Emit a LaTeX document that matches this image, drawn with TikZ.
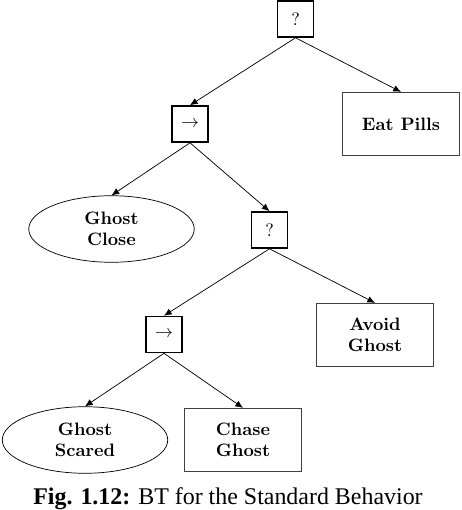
\documentclass[tikz,border=0pt]{standalone}
\usepackage{fontspec}
\newfontfamily\figcapserif{Liberation Serif}
\usetikzlibrary{arrows.meta, shapes.geometric, calc}
\newcommand{\btArrow}{{Latex[length=1.5mm, width=1.3mm]}}

\begin{document}
\begin{tikzpicture}[x=0.556pt, y=-0.556pt, font=\bfseries,
	ctrl/.style={draw, line width=0.9pt, minimum width=20pt, minimum height=20pt, inner sep=0pt, font=\normalfont},
	act/.style={draw=black!75, line width=0.7pt, minimum width=65pt, minimum height=35pt, align=center, inner sep=0pt},
	cond/.style={ellipse, draw, minimum width=92pt, minimum height=37pt, align=center, inner sep=0pt},
	figcap/.style={anchor=base west, inner sep=0pt, font=\figcapserif\fontsize{13.3pt}{16pt}\selectfont}]
	\useasboundingbox (0,0) rectangle (462,510);
	\clip (0,0) rectangle (462,510);

	% control flow nodes
	\node[ctrl] (root) at (295.5,19) {?};
	\node[ctrl] (seqA) at (190,124) {$\rightarrow$};
	\node[ctrl] (selB) at (269.5,230) {?};
	\node[ctrl] (seqB) at (164,334.5) {$\rightarrow$};

	% leaves
	\node[act] (eat) at (401,124) {Eat Pills};
	\node[cond] (close) at (111.5,229) {Ghost\\Close};
	\node[act] (avoid) at (375,335) {Avoid\\Ghost};
	\node[cond] (scared) at (85,440) {Ghost\\Scared};
	\node[act] (chase) at (243,440) {Chase\\Ghost};

	\foreach \from/\to in {root/seqA, root/eat, seqA/close, seqA/selB, selB/seqB, selB/avoid, seqB/scared, seqB/chase}
		\draw[-\btArrow] (\from.south) -- (\to.north);

	\node[figcap] (cap) at (33,504) {\textbf{Fig. 1.12:} BT for the Standard Behavior};
\end{tikzpicture}
\end{document}
